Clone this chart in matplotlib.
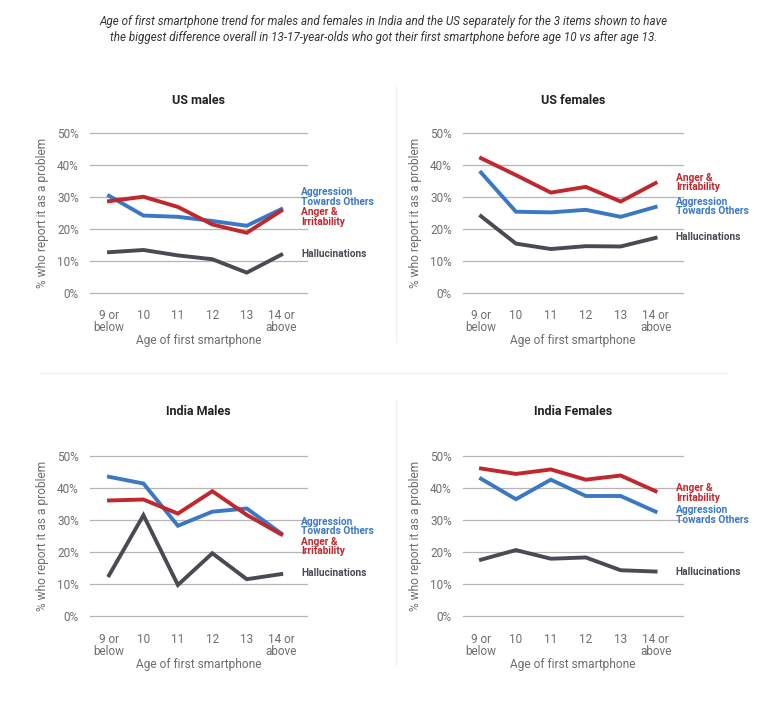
import matplotlib.pyplot as plt
from matplotlib.lines import Line2D

plt.rcParams['font.family'] = ['Roboto', 'DejaVu Sans']

ages = ["9 or\nbelow", "10", "11", "12", "13", "14 or\nabove"]
series_names = ["Aggression\nTowards Others", "Anger &\nIrritability", "Hallucinations"]
panel_titles = ["US males", "US females", "India Males", "India Females"]

us_m_aggr = [30.4, 24.2, 23.8, 22.5, 21.0, 26.2]
us_m_anger = [28.7, 30.1, 26.9, 21.4, 18.8, 25.7]
us_m_hall = [12.7, 13.4, 11.7, 10.5, 6.3, 11.9]

us_f_aggr = [37.7, 25.4, 25.2, 26.0, 23.8, 26.9]
us_f_anger = [42.2, 36.9, 31.4, 33.2, 28.6, 34.4]
us_f_hall = [24.0, 15.4, 13.7, 14.6, 14.5, 17.2]

in_m_aggr = [43.5, 41.4, 28.2, 32.6, 33.6, 25.8]
in_m_anger = [36.1, 36.4, 32.0, 39.0, 31.6, 25.5]
in_m_hall = [12.7, 31.5, 9.7, 19.6, 11.5, 13.1]

in_f_aggr = [42.9, 36.5, 42.6, 37.5, 37.5, 32.6]
in_f_anger = [46.1, 44.4, 45.8, 42.6, 43.9, 39.0]
in_f_hall = [17.6, 20.6, 17.9, 18.3, 14.3, 13.9]

panels = [
    (us_m_aggr, us_m_anger, us_m_hall),
    (us_f_aggr, us_f_anger, us_f_hall),
    (in_m_aggr, in_m_anger, in_m_hall),
    (in_f_aggr, in_f_anger, in_f_hall),
]
# where the end labels sit (in % units), aggression / anger / hallucinations
label_y = [
    (30.0, 23.8, 12.1),
    (27.0, 34.6, 17.6),
    (28.0, 21.7, 13.4),
    (31.5, 38.5, 13.75),
]

colors = ["#3b78c4", "#c1272d", "#4a4a54"]
grey = "#6e6e6e"

fig = plt.figure(figsize=(7.68, 7.03), dpi=100)

# axes rectangles in pixels: left, y of 0%, right, y of 50%
boxes = [(90, 292.7, 307, 133.3), (463, 292.7, 683, 133.3),
         (90, 616, 307, 456), (463, 616, 683, 456)]

for i, (box, data) in enumerate(zip(boxes, panels)):
    x0, yb, x1, yt = box
    ax = fig.add_axes([x0 / 768, 1 - yb / 703, (x1 - x0) / 768, (yb - yt) / 703])
    step = (x1 - x0) / 6.3
    first = (19 if i % 2 == 0 else 18) / step
    ax.set_xlim(-first, -first + 6.3)
    ax.set_ylim(0, 50)
    # grey first, then blue, red on top
    for k, z in [(2, 3), (0, 4), (1, 5)]:
        ax.plot(range(6), data[k], color=colors[k], lw=2.8, solid_joinstyle='miter', zorder=z)
    for name, ly, c in zip(series_names, label_y[i], colors):
        ax.text(5.58, ly, name, color=c, fontsize=7.3, fontweight='bold',
                va='center', ha='left', linespacing=0.95, clip_on=False)
    ax.set_yticks([0, 10, 20, 30, 40, 50])
    ax.set_yticklabels(["0%", "10%", "20%", "30%", "40%", "50%"])
    ax.set_xticks(range(6))
    ax.set_xticklabels(ages, linespacing=0.9)
    ax.tick_params(axis='y', length=0, pad=8, labelsize=8.5, labelcolor=grey)
    ax.tick_params(axis='x', length=0, pad=12, labelsize=8.5, labelcolor=grey)
    ax.yaxis.grid(True, color="#b5b5b5", lw=0.9)
    for gl in ax.get_ygridlines():
        gl.set_clip_on(False)
    for s in ax.spines.values():
        s.set_visible(False)
    ax.set_axisbelow(True)
    ax.set_xlabel("Age of first smartphone", fontsize=8.6, color=grey, labelpad=0)
    ax.set_ylabel("% who report it as a problem", fontsize=8.6, color=grey, labelpad=6)
    title_y = 101 if i < 2 else 411
    fig.text((x0 + x1) / 2 / 768, 1 - title_y / 703, panel_titles[i],
             fontsize=9, fontweight='bold', color="#222222", ha='center', va='center')

fig.text(0.5, 1 - 29 / 703,
         "Age of first smartphone trend for males and females in India and the US separately for the 3 items shown to have\n"
         "the biggest difference overall in 13-17-year-olds who got their first smartphone before age 10 vs after age 13.",
         fontsize=8.4, style='italic', color="#333333", ha='center', va='center', linespacing=1.3)

# faint separators between the four panels
sep = "#f0f0f0"
fig.add_artist(Line2D([40 / 768, 727 / 768], [1 - 373 / 703] * 2, color=sep, lw=1))
fig.add_artist(Line2D([396 / 768] * 2, [1 - 85 / 703, 1 - 342 / 703], color=sep, lw=1))
fig.add_artist(Line2D([396 / 768] * 2, [1 - 400 / 703, 1 - 665 / 703], color=sep, lw=1))

fig.savefig("out.png", dpi=100, facecolor="white")
